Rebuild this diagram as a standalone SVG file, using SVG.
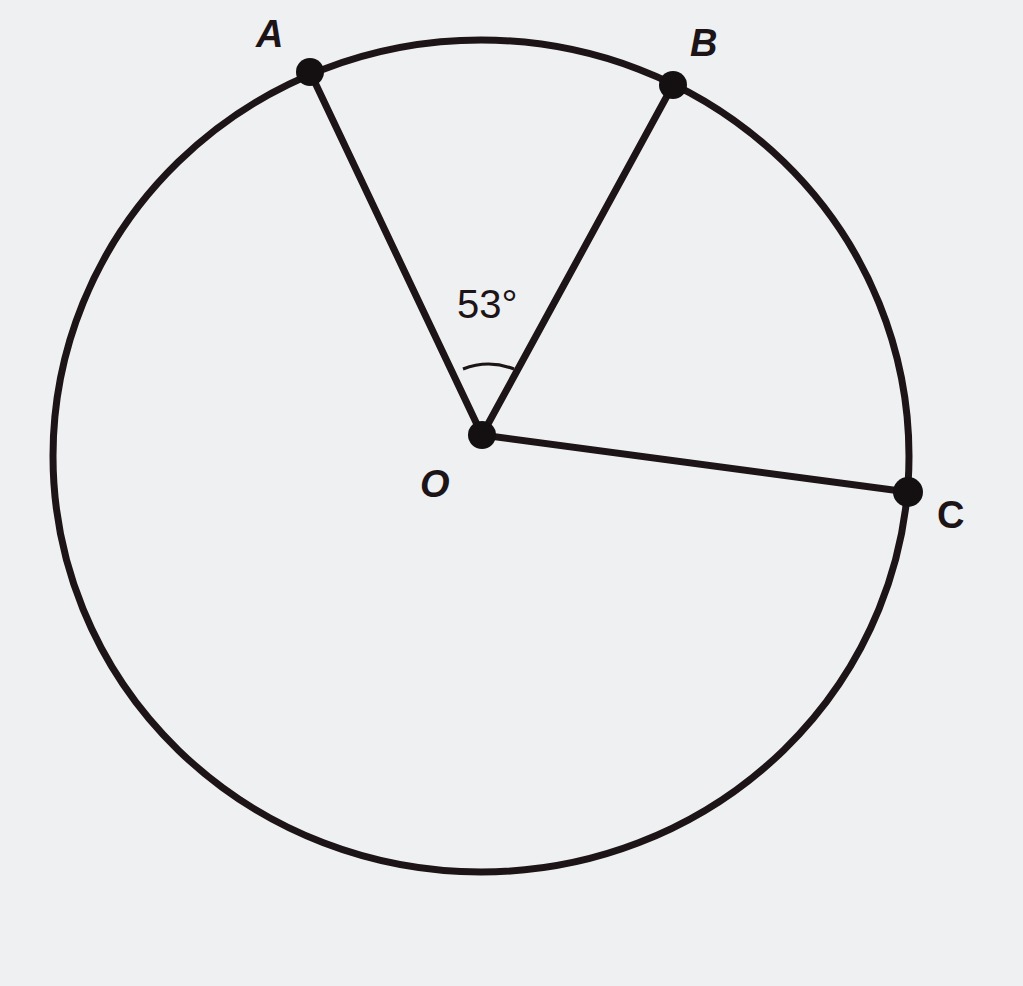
<svg xmlns="http://www.w3.org/2000/svg" width="1023" height="986" viewBox="0 0 1023 986">
<style>
.ln{stroke:#1c1416;stroke-width:7;fill:none;stroke-linecap:round}
.pt{fill:#141012}
.lb{font-family:"Liberation Sans",Arial,sans-serif;font-size:38px;fill:#1c1416;font-weight:bold}
</style>
<rect width="1023" height="986" fill="#eef0f2"/>
<ellipse cx="481" cy="456" rx="428" ry="416" class="ln"/>
<g id="connectors">
<line x1="482" y1="435" x2="310" y2="72" class="ln"/>
<line x1="482" y1="435" x2="673" y2="85" class="ln"/>
<line x1="482" y1="435" x2="908" y2="492" class="ln"/>
<path d="M463 369 A70 70 0 0 1 514 369" fill="none" stroke="#1c1416" stroke-width="3"/>
</g>
<g id="A"><circle cx="310" cy="72" r="14" class="pt"/><text x="256" y="47" class="lb" font-style="italic">A</text></g>
<g id="B"><circle cx="673" cy="85" r="14" class="pt"/><text x="690" y="56" class="lb" font-style="italic">B</text></g>
<g id="O"><circle cx="482" cy="435" r="14" class="pt"/><text x="420" y="497" class="lb" font-style="italic">O</text></g>
<g id="C"><circle cx="908" cy="492" r="15" class="pt"/><text x="937" y="528" class="lb">C</text></g>
<text x="457" y="318" font-family="Liberation Sans,Arial,sans-serif" font-size="40" fill="#1c1416">53°</text>
</svg>
